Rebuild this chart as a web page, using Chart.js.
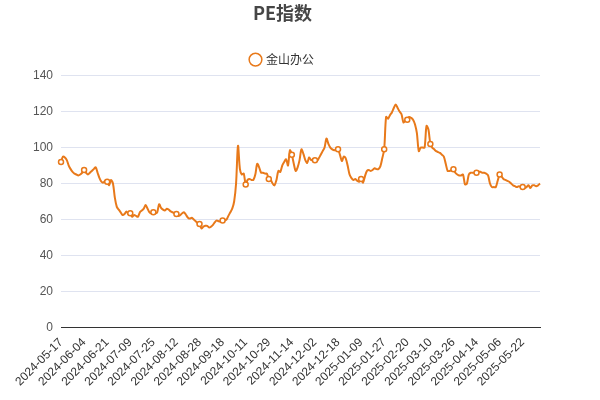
<!DOCTYPE html>
<html>
<head>
<meta charset="utf-8">
<script src="https://cdn.jsdelivr.net/npm/chart.js@4"></script>
<style>
  body { margin: 0; background: #fff; }
  #wrap { width: 600px; height: 400px; }
</style>
</head>
<body>
<div id="wrap"><canvas id="chart"></canvas></div>
<script>
// tick labels shown every 12 trading days
const tickLabels = ["2024-05-17", "2024-06-04", "2024-06-21", "2024-07-09", "2024-07-25", "2024-08-12", "2024-08-28",
    "2024-09-18", "2024-10-11", "2024-10-29", "2024-11-14", "2024-12-02", "2024-12-18", "2025-01-09", "2025-01-27",
    "2025-02-20", "2025-03-10", "2025-03-26", "2025-04-14", "2025-05-06", "2025-05-22"];

const peValues = [
    92, 95, 94.5, 93, 90, 88, 86.5, 85.5, 85, 84.5, 85, 86,
    87.5, 86, 85, 86, 87, 88, 89, 86, 83, 81, 80.5, 81.5,
    81, 79, 82, 80, 72, 67, 65.5, 64, 62.5, 63, 64.5, 63,
    63.5, 61.5, 62.5, 62, 61.5, 64, 65, 66, 68, 66, 64, 63.5,
    64, 63.5, 64, 68.5, 66.5, 65.5, 65, 66, 65.5, 64.5, 64, 63.5,
    63, 62, 62.5, 63.5, 64, 62.5, 61, 60.5, 61, 60, 59, 58,
    57.5, 55, 56, 56.5, 56.5, 55.5, 56, 57, 58.5, 59.5, 59, 59,
    59.5, 59.5, 60, 62, 64, 66, 70, 80, 101, 88, 85, 85.5,
    79.5, 82, 82.5, 82, 82, 85, 91, 89, 86, 86, 85.5, 85.5,
    82.5, 82, 80, 79, 82, 87, 86.5, 90, 92, 93.5, 90, 98.5,
    96, 91, 87, 89, 93, 99, 96.5, 93, 91.5, 94.5, 93, 93.5,
    93, 92.5, 94, 96, 98, 100, 105, 102, 100, 99, 98.5, 99,
    99, 96, 92.5, 95, 94, 90, 85, 83, 82, 82.5, 81.5, 81,
    82.5, 80.5, 84, 87, 87.5, 87, 87.5, 88.5, 88, 88, 89.5, 94,
    99, 117, 116, 118, 119.5, 122, 124, 122, 120, 118.5, 114, 115,
    115.5, 117, 116.5, 115.5, 113, 108, 98, 100, 100, 100, 112, 110,
    102, 100, 99, 98, 97.5, 97, 96, 95, 91, 87, 87, 87.5,
    88, 86, 85, 84.5, 84.5, 85, 79.5, 80, 85, 86, 86, 86,
    86, 86.5, 86.5, 86, 86, 85.5, 84.5, 80, 78, 78, 78, 81.5,
    85, 84, 82.5, 82, 81.5, 81, 80, 79, 78.5, 78, 78.5, 78,
    78, 77.5, 78, 79, 77.5, 79, 79, 78.5, 79, 80
];

const step = 12;
const labels = peValues.map((v, i) => i % step === 0 ? tickLabels[i / step] : "");
const color = "#e8791a";

new Chart(document.getElementById("chart"), {
    type: "line",
    data: {
        labels: labels,
        datasets: [{
            label: "金山办公",
            data: peValues,
            borderColor: color,
            backgroundColor: "#fff",
            borderWidth: 2,
            tension: 0.3,
            pointRadius: ctx => ctx.dataIndex % step === 0 ? 2.5 : 0,
            pointBorderWidth: 1.5,
            pointBorderColor: color,
            pointBackgroundColor: "#fff"
        }]
    },
    options: {
        responsive: true,
        maintainAspectRatio: false,
        animation: false,
        layout: { padding: { left: 25, right: 60, top: 0, bottom: 8 } },
        plugins: {
            title: {
                display: true,
                text: "PE指数",
                color: "#464646",
                font: { size: 18, weight: "bold", family: "Noto Sans CJK SC" },
                padding: { top: 2, bottom: 10 }
            },
            legend: {
                labels: {
                    usePointStyle: true,
                    pointStyle: "circle",
                    boxWidth: 9,
                    boxHeight: 9,
                    color: "#333",
                    padding: 20,
                    font: { size: 12, family: "Noto Sans CJK SC" }
                }
            },
            tooltip: { enabled: false }
        },
        scales: {
            x: {
                grid: { display: false, drawTicks: true, tickLength: 5, tickColor: "#333" },
                border: { color: "#333" },
                ticks: {
                    autoSkip: false,
                    maxRotation: 45,
                    minRotation: 45,
                    color: "#333",
                    font: { size: 12 },
                    callback: function (v, i) { return labels[i]; }
                }
            },
            y: {
                min: 0,
                max: 140,
                ticks: { stepSize: 20, color: "#555", font: { size: 12 }, padding: 8 },
                grid: { color: "#dfe3f0", drawTicks: false },
                border: { display: false }
            }
        }
    }
});
</script>
</body>
</html>
